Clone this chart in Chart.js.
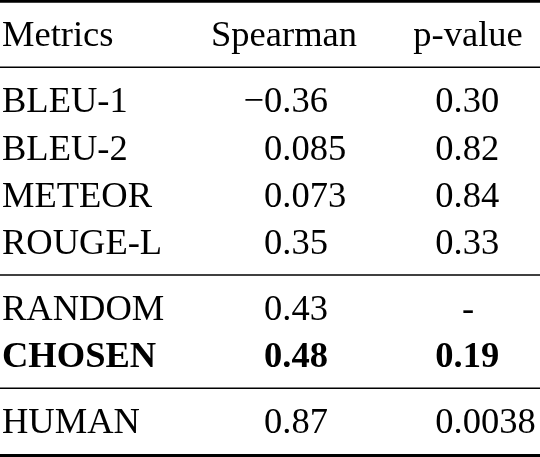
<!DOCTYPE html>
<html>
<head>
<meta charset="utf-8">
<script src="https://cdn.jsdelivr.net/npm/chart.js@4/dist/chart.umd.min.js"></script>
<style>
  html, body { margin: 0; padding: 0; background: #fff; }
  #wrap { width: 540px; height: 457px; position: relative; }
</style>
</head>
<body>
<div id="wrap"><canvas id="metricsTable"></canvas></div>
<script>
// Table data
const headers = ['Metrics', 'Spearman', 'p-value'];
const metricGroups = [
  ['BLEU-1', 'BLEU-2', 'METEOR', 'ROUGE-L'],
  ['RANDOM', 'CHOSEN'],
  ['HUMAN']
];
const spearman = ['\u22120.36', '0.085', '0.073', '0.35', '0.43', '0.48', '0.87'];
const pValues = ['0.30', '0.82', '0.84', '0.33', '-', '0.19', '0.0038'];
const boldRows = ['CHOSEN'];

// Layout (pixels on the x scale, row units on the y scale)
const headerX = [2, 284, 468];     // header anchors: left, center, center
const cellX = [2, 282.3, 453.5];   // body anchors: left, decimal point, decimal point
const fontSize = 36.5;
const rowGap = 0.7;                // half of the extra space around a rule
const outerGap = 0.725;            // distance from last row to bottom rule

// Row positions: header at 0, step 1 inside a group, rule between groups
const metrics = metricGroups.flat();
const rowPos = [];
const rulePos = [{ y: -rowGap, w: 3 }, { y: rowGap, w: 1.5 }];
let pos = 2 * rowGap;
metricGroups.forEach((group, g) => {
  group.forEach(() => { rowPos.push(pos); pos += 1; });
  pos -= 1;
  const last = g === metricGroups.length - 1;
  rulePos.push({ y: pos + (last ? outerGap : rowGap), w: last ? 3.2 : 1.5 });
  pos += 2 * rowGap;
});

const columns = [metrics, spearman, pValues];

function fontFor(bold) {
  return (bold ? 'bold ' : '') + fontSize + 'px "Liberation Serif", "Times New Roman", serif';
}

// Draws the rules and the cell text at the positions given by the scales
const tablePlugin = {
  id: 'tablePlugin',
  afterDatasetsDraw(chart) {
    const ctx = chart.ctx;
    const xs = chart.scales.x;
    const ys = chart.scales.y;
    const capShift = fontSize * 0.331;
    ctx.save();
    ctx.fillStyle = '#000';
    ctx.strokeStyle = '#000';

    // horizontal rules
    rulePos.forEach(r => {
      const y = ys.getPixelForValue(r.y);
      ctx.lineWidth = r.w;
      ctx.beginPath();
      ctx.moveTo(xs.left, y);
      ctx.lineTo(xs.right, y);
      ctx.stroke();
    });

    // header row
    ctx.font = fontFor(false);
    ctx.textBaseline = 'alphabetic';
    const hy = ys.getPixelForValue(0) + capShift;
    headers.forEach((h, c) => {
      ctx.textAlign = c === 0 ? 'left' : 'center';
      ctx.fillText(h, xs.getPixelForValue(headerX[c]), hy);
    });

    // body cells from the dataset elements
    chart.data.datasets.forEach((ds, c) => {
      const meta = chart.getDatasetMeta(c);
      meta.data.forEach((pt, i) => {
        const text = ds.cellText[i];
        const bold = boldRows.includes(metrics[i]);
        ctx.font = fontFor(bold);
        const y = pt.y + capShift;
        if (c === 0) {
          ctx.textAlign = 'left';
          ctx.fillText(text, pt.x, y);
        } else if (text.includes('.')) {
          const k = text.indexOf('.');
          ctx.textAlign = 'right';
          ctx.fillText(text.slice(0, k), pt.x, y);
          ctx.textAlign = 'left';
          ctx.fillText(text.slice(k), pt.x, y);
        } else {
          ctx.textAlign = 'center';
          ctx.fillText(text, xs.getPixelForValue(headerX[c]), y);
        }
      });
    });
    ctx.restore();
  }
};

const pxPerRow = 47.2;
const headerCenter = 34.3;
const yMin = -headerCenter / pxPerRow;
const yMax = yMin + 457 / pxPerRow;

const ctx = document.getElementById('metricsTable').getContext('2d');
new Chart(ctx, {
  type: 'scatter',
  data: {
    datasets: columns.map((col, c) => ({
      label: headers[c],
      cellText: col,
      data: col.map((v, i) => ({ x: cellX[c], y: rowPos[i] })),
      pointRadius: 0,
      pointHoverRadius: 0
    }))
  },
  options: {
    responsive: true,
    maintainAspectRatio: false,
    animation: false,
    layout: { padding: 0 },
    events: [],
    plugins: { legend: { display: false }, tooltip: { enabled: false } },
    scales: {
      x: { type: 'linear', min: 0, max: 540, display: false },
      y: { type: 'linear', min: yMin, max: yMax, reverse: true, display: false }
    }
  },
  plugins: [tablePlugin]
});
</script>
</body>
</html>
